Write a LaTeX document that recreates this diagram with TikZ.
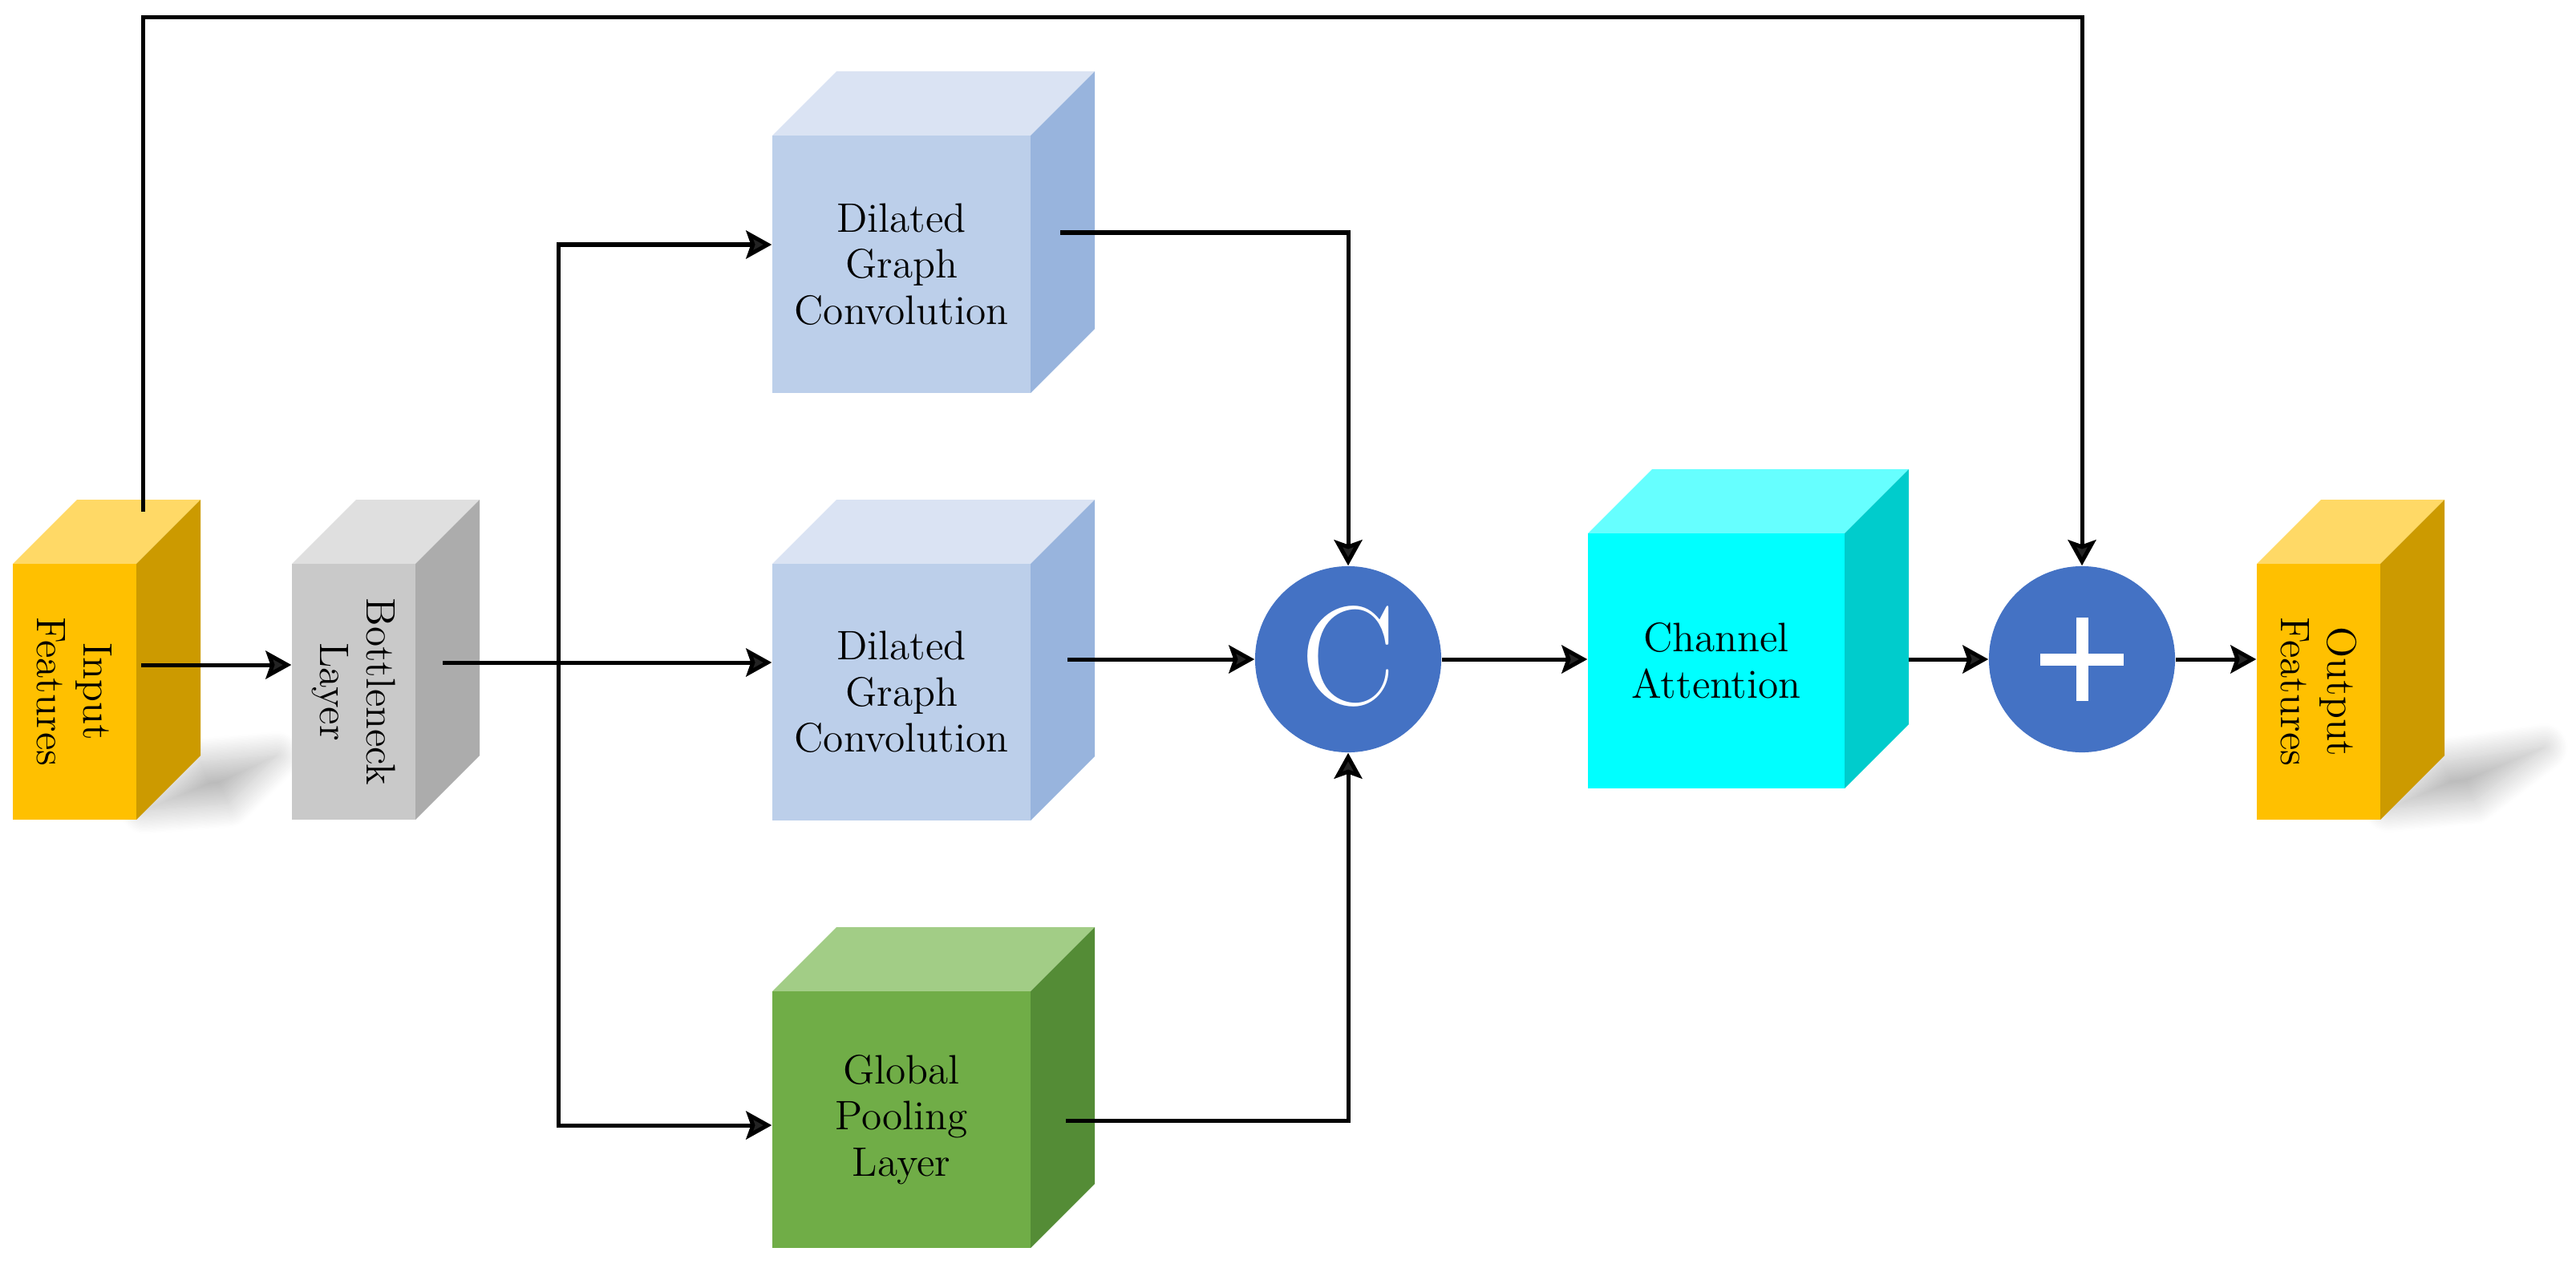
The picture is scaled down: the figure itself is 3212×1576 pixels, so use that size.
\documentclass[tikz,border=0pt]{standalone}
\usetikzlibrary{arrows.meta,calc,fit,shadows.blur}
\definecolor{yF}{HTML}{FFC000}\definecolor{yT}{HTML}{FFD966}\definecolor{yS}{HTML}{CC9A00}
\definecolor{gF}{HTML}{C9C9C9}\definecolor{gT}{HTML}{DFDFDF}\definecolor{gS}{HTML}{ACACAC}
\definecolor{bF}{HTML}{BCCFEA}\definecolor{bT}{HTML}{DAE3F3}\definecolor{bS}{HTML}{98B4DD}
\definecolor{grF}{HTML}{70AD47}\definecolor{grT}{HTML}{A2CD86}\definecolor{grS}{HTML}{548C36}
\definecolor{cF}{HTML}{00FFFF}\definecolor{cT}{HTML}{66FFFF}\definecolor{cS}{HTML}{00CCCC}
\definecolor{cblue}{HTML}{4472C4}
\newcommand\mycube[9]{%
  \fill[#7] (#2,#3) -- (#2+#9,#3-#9) -- (#4+#9,#3-#9) -- (#4,#3) -- cycle;
  \fill[#8] (#4,#3) -- (#4+#9,#3-#9) -- (#4+#9,#5-#9) -- (#4,#5) -- cycle;
  \fill[#6] (#2,#3) rectangle (#4,#5);
  \node[fit={(#2,#3)(#4,#5)}, inner sep=0pt] (#1) {};
}
\tikzset{
  arr/.style={-{Stealth[length=0.32cm,width=0.35cm,inset=0.06cm]}, line width=0.05cm},
  lbl/.style={font=\fontsize{14.6pt}{16.4pt}\selectfont, align=center, inner sep=0pt, text=black},
  sum/.style={circle, fill=cblue, minimum size=2.32cm, inner sep=0pt},
  shad/.style={blur shadow={shadow xshift=0pt, shadow yshift=0pt, shadow blur radius=0.3cm, shadow opacity=28, shadow blur steps=24}}
}
\begin{document}
\begin{tikzpicture}[x=0.01cm, y=-0.01cm]
\useasboundingbox (0,0) rectangle (3212,1576);
% shadows
\path[shad] (180,1010) -- (250,950) -- (345,942) -- (285,1002) -- cycle;
\path[shad] (2978,1008) -- (3045,950) -- (3172,932) -- (3085,998) -- cycle;
% cubes
\mycube{in}{16}{703}{170}{1022}{yF}{yT}{yS}{80}
\mycube{bn}{364}{703}{518}{1022}{gF}{gT}{gS}{80}
\mycube{dg1}{963}{169}{1285}{490}{bF}{bT}{bS}{80}
\mycube{dg2}{963}{703}{1285}{1023}{bF}{bT}{bS}{80}
\mycube{gpl}{963}{1236}{1285}{1556}{grF}{grT}{grS}{80}
\mycube{ca}{1980}{665}{2300}{983}{cF}{cT}{cS}{80}
\mycube{out}{2814}{703}{2968}{1022}{yF}{yT}{yS}{80}
% labels
\node[lbl, rotate=-90] at (in.center) {Input\\Features};
\node[lbl, rotate=-90] at (bn.center) {Bottleneck\\Layer};
\node[lbl, rotate=-90] at (out.center) {Output\\Features};
\node[lbl] at (dg1.center) {Dilated\\Graph\\Convolution};
\node[lbl] at (dg2.center) {Dilated\\Graph\\Convolution};
\node[lbl] at (gpl.center) {Global\\Pooling\\Layer};
\node[lbl] at (ca.center) {Channel\\Attention};
% operators
\node[sum] (cc) at (1681,822) {};
\node[text=white, font=\fontsize{50pt}{50pt}\selectfont, inner sep=0pt] at ($(cc)+(0,-4)$) {C};
\node[sum] (pl) at (2596,822) {};
\fill[white] ($(pl)+(-52,-7.5)$) rectangle ($(pl)+(52,7.5)$);
\fill[white] ($(pl)+(-7.5,-52)$) rectangle ($(pl)+(7.5,52)$);
% connectors
\coordinate (p1) at (176,829);
\draw[arr] (p1) -- (p1 -| bn.west);
\coordinate (p2) at (552,826);
\draw[arr] (p2) -- (p2 -| dg2.west);
\coordinate (br1) at (696,305);
\coordinate (br2) at (696,1403);
\draw[arr] (br2) -- (br1) -- (br1 -| dg1.west);
\draw[arr] (br1) -- (br2) -- (br2 -| gpl.west);
\coordinate (q1) at (1322,290);
\draw[arr] (q1) -- (q1 -| cc) -- (cc.north);
\coordinate (q2) at (1331,822);
\draw[arr] (q2) -- (cc.west);
\coordinate (q3) at (1329,1397);
\draw[arr] (q3) -- (q3 -| cc) -- (cc.south);
\draw[arr] (cc.east) -- (cc.east -| ca.west);
\coordinate (r1) at (2380,822);
\draw[arr] (r1) -- (pl.west);
\draw[arr] (pl.east) -- (pl.east -| out.west);
\coordinate (s0) at (178,638);
\coordinate (s1) at (178,22);
\draw[arr] (s0) -- (s1) -- (s1 -| pl) -- (pl.north);
\end{tikzpicture}
\end{document}
